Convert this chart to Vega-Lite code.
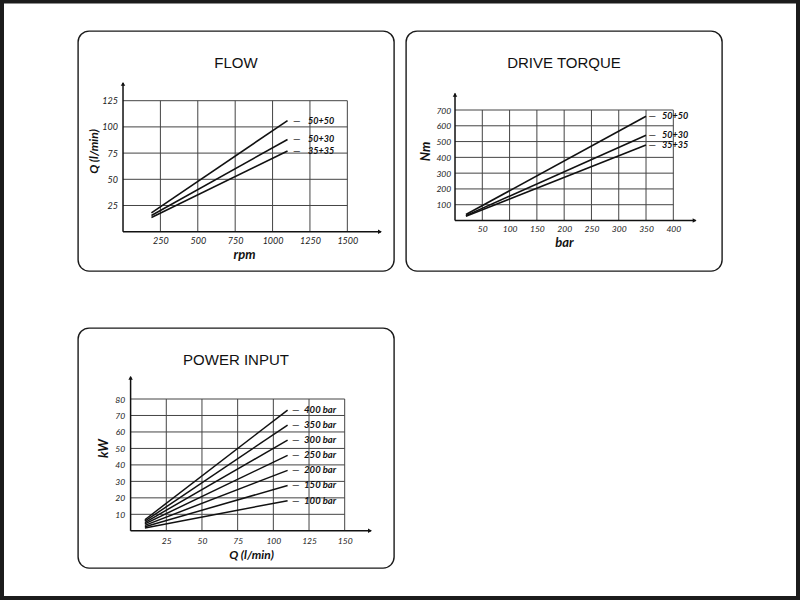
{
  "$schema": "https://vega.github.io/schema/vega-lite/v6.json",
  "padding": 0,
  "background": "white",
  "columns": 2,
  "spacing": {"row": 57, "column": 12},
  "bounds": "flush",
  "datasets": {
    "flow": [
      {"rpm": 190, "q": 18, "series": "50+50"}, {"rpm": 1100, "q": 106, "series": "50+50"},
      {"rpm": 190, "q": 15.5, "series": "50+30"}, {"rpm": 1100, "q": 88, "series": "50+30"},
      {"rpm": 190, "q": 13.5, "series": "35+35"}, {"rpm": 1100, "q": 77, "series": "35+35"}
    ],
    "flowGridX": [{"rpm": 250}, {"rpm": 500}, {"rpm": 750}, {"rpm": 1000}, {"rpm": 1250}, {"rpm": 1500}],
    "flowGridY": [{"q": 25}, {"q": 50}, {"q": 75}, {"q": 100}, {"q": 125}],
    "torque": [
      {"bar": 20, "nm": 38, "series": "50+50"}, {"bar": 350, "nm": 660, "series": "50+50"},
      {"bar": 20, "nm": 31, "series": "50+30"}, {"bar": 350, "nm": 540, "series": "50+30"},
      {"bar": 20, "nm": 27, "series": "35+35"}, {"bar": 350, "nm": 478, "series": "35+35"}
    ],
    "torqueGridX": [{"bar": 50}, {"bar": 100}, {"bar": 150}, {"bar": 200}, {"bar": 250}, {"bar": 300}, {"bar": 350}, {"bar": 400}],
    "torqueGridY": [{"nm": 100}, {"nm": 200}, {"nm": 300}, {"nm": 400}, {"nm": 500}, {"nm": 600}, {"nm": 700}],
    "power": [
      {"q": 10, "kw": 6.7, "series": "400 bar"}, {"q": 110, "kw": 73.3, "series": "400 bar"},
      {"q": 10, "kw": 5.8, "series": "350 bar"}, {"q": 110, "kw": 64.2, "series": "350 bar"},
      {"q": 10, "kw": 5.0, "series": "300 bar"}, {"q": 110, "kw": 55.0, "series": "300 bar"},
      {"q": 10, "kw": 4.2, "series": "250 bar"}, {"q": 110, "kw": 45.8, "series": "250 bar"},
      {"q": 10, "kw": 3.3, "series": "200 bar"}, {"q": 110, "kw": 36.7, "series": "200 bar"},
      {"q": 10, "kw": 2.5, "series": "150 bar"}, {"q": 110, "kw": 27.5, "series": "150 bar"},
      {"q": 10, "kw": 1.7, "series": "100 bar"}, {"q": 110, "kw": 18.3, "series": "100 bar"}
    ],
    "powerGridX": [{"q": 25}, {"q": 50}, {"q": 75}, {"q": 100}, {"q": 125}, {"q": 150}],
    "powerGridY": [{"kw": 10}, {"kw": 20}, {"kw": 30}, {"kw": 40}, {"kw": 50}, {"kw": 60}, {"kw": 70}, {"kw": 80}]
  },
  "concat": [
    {
      "width": 316,
      "height": 240,
      "title": {"text": "FLOW"},
      "layer": [
        {"data": {"name": "flowGridX"}, "mark": {"type": "rule", "color": "#444", "strokeWidth": 1},
         "encoding": {
           "x": {"field": "rpm", "type": "quantitative", "scale": {"domain": [-301, 1812], "nice": false, "zero": false},
                 "axis": {"values": [250, 500, 750, 1000, 1250, 1500], "tickCount": 30, "format": "d", "title": "rpm", "titleX": 166, "offset": -39.3, "labelPadding": 4.5, "labelFontSize": 9, "titleFontSize": 13, "titlePadding": 3}},
           "y": {"datum": 0, "type": "quantitative", "scale": {"domain": [-37.5, 191.5], "nice": false, "zero": false}},
           "y2": {"datum": 125}}},
        {"data": {"name": "flowGridY"}, "mark": {"type": "rule", "color": "#444", "strokeWidth": 1},
         "encoding": {
           "y": {"field": "q", "type": "quantitative",
                 "axis": {"values": [25, 50, 75, 100, 125], "tickCount": 30, "format": "d", "title": "Q (l/min)", "offset": -45, "labelPadding": 5.5, "labelFontSize": 9, "titleFontSize": 12, "titlePadding": 1}},
           "x": {"datum": 0, "type": "quantitative"}, "x2": {"datum": 1500}}},
        {"data": {"values": [{}]}, "mark": {"type": "rule", "color": "#111", "strokeWidth": 1.5},
         "encoding": {"x": {"datum": 0, "type": "quantitative"}, "x2": {"datum": 1725}, "y": {"datum": 0, "type": "quantitative"}}},
        {"data": {"values": [{}]}, "mark": {"type": "rule", "color": "#111", "strokeWidth": 1.5},
         "encoding": {"x": {"datum": 0, "type": "quantitative"}, "y": {"datum": 0, "type": "quantitative"}, "y2": {"datum": 142}}},
        {"data": {"values": [{}]}, "mark": {"type": "point", "shape": "triangle-right", "filled": true, "size": 20, "color": "#111", "opacity": 1},
         "encoding": {"x": {"datum": 1718, "type": "quantitative"}, "y": {"datum": 0, "type": "quantitative"}}},
        {"data": {"values": [{}]}, "mark": {"type": "point", "shape": "triangle-up", "filled": true, "size": 20, "color": "#111", "opacity": 1},
         "encoding": {"x": {"datum": 0, "type": "quantitative"}, "y": {"datum": 141, "type": "quantitative"}}},
        {"data": {"name": "flow"}, "mark": {"type": "line", "color": "#111", "strokeWidth": 1.6},
         "encoding": {"x": {"field": "rpm", "type": "quantitative"}, "y": {"field": "q", "type": "quantitative"}, "detail": {"field": "series"}}},
        {"data": {"name": "flow"}, "transform": [{"filter": "datum.rpm == 1100"}],
         "mark": {"type": "text", "text": "—", "align": "left", "baseline": "middle", "dx": 5.5, "fontSize": 9.5, "color": "#111"},
         "encoding": {"x": {"field": "rpm", "type": "quantitative"}, "y": {"field": "q", "type": "quantitative"}}},
        {"data": {"name": "flow"}, "transform": [{"filter": "datum.rpm == 1100"}],
         "mark": {"type": "text", "align": "left", "baseline": "middle", "dx": 20.5, "fontSize": 9, "fontWeight": "bold", "fontStyle": "italic", "color": "#111"},
         "encoding": {"x": {"field": "rpm", "type": "quantitative"}, "y": {"field": "q", "type": "quantitative"}, "text": {"field": "series"}}}
      ]
    },
    {
      "width": 316,
      "height": 240,
      "title": {"text": "DRIVE TORQUE"},
      "layer": [
        {"data": {"name": "torqueGridX"}, "mark": {"type": "rule", "color": "#444", "strokeWidth": 1},
         "encoding": {
           "x": {"field": "bar", "type": "quantitative", "scale": {"domain": [-89.8, 489.2], "nice": false, "zero": false},
                 "axis": {"values": [50, 100, 150, 200, 250, 300, 350, 400], "tickCount": 30, "format": "d", "title": "bar", "offset": -50.5, "labelPadding": 4, "labelFontSize": 8.5, "titleFontSize": 13, "titlePadding": 3}},
           "y": {"datum": 0, "type": "quantitative", "scale": {"domain": [-319.9, 1200.5], "nice": false, "zero": false}},
           "y2": {"datum": 700}}},
        {"data": {"name": "torqueGridY"}, "mark": {"type": "rule", "color": "#444", "strokeWidth": 1},
         "encoding": {
           "y": {"field": "nm", "type": "quantitative",
                 "axis": {"values": [100, 200, 300, 400, 500, 600, 700], "tickCount": 30, "format": "d", "title": "Nm", "offset": -49, "labelPadding": 4.3, "labelFontSize": 8.5, "titleFontSize": 13, "titlePadding": 3}},
           "x": {"datum": 0, "type": "quantitative"}, "x2": {"datum": 400}}},
        {"data": {"values": [{}]}, "mark": {"type": "rule", "color": "#111", "strokeWidth": 1.5},
         "encoding": {"x": {"datum": 0, "type": "quantitative"}, "x2": {"datum": 441}, "y": {"datum": 0, "type": "quantitative"}}},
        {"data": {"values": [{}]}, "mark": {"type": "rule", "color": "#111", "strokeWidth": 1.5},
         "encoding": {"x": {"datum": 0, "type": "quantitative"}, "y": {"datum": 0, "type": "quantitative"}, "y2": {"datum": 805}}},
        {"data": {"values": [{}]}, "mark": {"type": "point", "shape": "triangle-right", "filled": true, "size": 20, "color": "#111", "opacity": 1},
         "encoding": {"x": {"datum": 439, "type": "quantitative"}, "y": {"datum": 0, "type": "quantitative"}}},
        {"data": {"values": [{}]}, "mark": {"type": "point", "shape": "triangle-up", "filled": true, "size": 20, "color": "#111", "opacity": 1},
         "encoding": {"x": {"datum": 0, "type": "quantitative"}, "y": {"datum": 797, "type": "quantitative"}}},
        {"data": {"name": "torque"}, "mark": {"type": "line", "color": "#111", "strokeWidth": 1.6},
         "encoding": {"x": {"field": "bar", "type": "quantitative"}, "y": {"field": "nm", "type": "quantitative"}, "detail": {"field": "series"}}},
        {"data": {"name": "torque"}, "transform": [{"filter": "datum.bar == 350"}],
         "mark": {"type": "text", "text": "—", "align": "left", "baseline": "middle", "dx": 2.5, "fontSize": 9.5, "color": "#111"},
         "encoding": {"x": {"field": "bar", "type": "quantitative"}, "y": {"field": "nm", "type": "quantitative"}}},
        {"data": {"name": "torque"}, "transform": [{"filter": "datum.bar == 350"}],
         "mark": {"type": "text", "align": "left", "baseline": "middle", "dx": 16, "fontSize": 9, "fontWeight": "bold", "fontStyle": "italic", "color": "#111"},
         "encoding": {"x": {"field": "bar", "type": "quantitative"}, "y": {"field": "nm", "type": "quantitative"}, "text": {"field": "series"}}}
      ]
    },
    {
      "width": 316,
      "height": 240,
      "title": {"text": "POWER INPUT"},
      "layer": [
        {"data": {"name": "powerGridX"}, "mark": {"type": "rule", "color": "#444", "strokeWidth": 1},
         "encoding": {
           "x": {"field": "q", "type": "quantitative", "scale": {"domain": [-36.85, 184.54], "nice": false, "zero": false},
                 "axis": {"values": [25, 50, 75, 100, 125, 150], "tickCount": 30, "format": "d", "title": "Q (l/min)", "titleX": 173, "offset": -37.2, "labelPadding": 6, "labelFontSize": 8.5, "titleFontSize": 12, "titlePadding": 4}},
           "y": {"datum": 0, "type": "quantitative", "scale": {"domain": [-22.58, 123.1], "nice": false, "zero": false}},
           "y2": {"datum": 80}}},
        {"data": {"name": "powerGridY"}, "mark": {"type": "rule", "color": "#444", "strokeWidth": 1},
         "encoding": {
           "y": {"field": "kw", "type": "quantitative",
                 "axis": {"values": [10, 20, 30, 40, 50, 60, 70, 80], "tickCount": 30, "format": "d", "title": "kW", "offset": -52.6, "labelPadding": 6, "labelFontSize": 8.5, "titleFontSize": 13, "titlePadding": 4}},
           "x": {"datum": 0, "type": "quantitative"}, "x2": {"datum": 150}}},
        {"data": {"values": [{}]}, "mark": {"type": "rule", "color": "#111", "strokeWidth": 1.5},
         "encoding": {"x": {"datum": 0, "type": "quantitative"}, "x2": {"datum": 168.5}, "y": {"datum": 0, "type": "quantitative"}}},
        {"data": {"values": [{}]}, "mark": {"type": "rule", "color": "#111", "strokeWidth": 1.5},
         "encoding": {"x": {"datum": 0, "type": "quantitative"}, "y": {"datum": 0, "type": "quantitative"}, "y2": {"datum": 93.5}}},
        {"data": {"values": [{}]}, "mark": {"type": "point", "shape": "triangle-right", "filled": true, "size": 20, "color": "#111", "opacity": 1},
         "encoding": {"x": {"datum": 167.7, "type": "quantitative"}, "y": {"datum": 0, "type": "quantitative"}}},
        {"data": {"values": [{}]}, "mark": {"type": "point", "shape": "triangle-up", "filled": true, "size": 20, "color": "#111", "opacity": 1},
         "encoding": {"x": {"datum": 0, "type": "quantitative"}, "y": {"datum": 92.8, "type": "quantitative"}}},
        {"data": {"name": "power"}, "mark": {"type": "line", "color": "#111", "strokeWidth": 1.5},
         "encoding": {"x": {"field": "q", "type": "quantitative"}, "y": {"field": "kw", "type": "quantitative"}, "detail": {"field": "series"}}},
        {"data": {"name": "power"}, "transform": [{"filter": "datum.q == 110"}],
         "mark": {"type": "text", "text": "—", "align": "left", "baseline": "middle", "dx": 4.5, "fontSize": 9.5, "color": "#111"},
         "encoding": {"x": {"field": "q", "type": "quantitative"}, "y": {"field": "kw", "type": "quantitative"}}},
        {"data": {"name": "power"}, "transform": [{"filter": "datum.q == 110"}],
         "mark": {"type": "text", "align": "left", "baseline": "middle", "dx": 16.5, "fontSize": 9.5, "fontWeight": "bold", "fontStyle": "italic", "color": "#111"},
         "encoding": {"x": {"field": "q", "type": "quantitative"}, "y": {"field": "kw", "type": "quantitative"}, "text": {"field": "series"}}}
      ]
    },
    {
      "width": 316,
      "height": 240,
      "view": {"stroke": null, "fill": null},
      "data": {"values": [{}]},
      "layer": [
        {"mark": {"type": "rect", "color": "#1c1c1c"},
         "encoding": {"x": {"datum": 0, "type": "quantitative", "scale": {"domain": [406, 722], "nice": false, "zero": false}, "axis": null}, "x2": {"datum": 4},
                      "y": {"datum": 0, "type": "quantitative", "scale": {"domain": [32, 272], "nice": false, "zero": false}, "axis": null}, "y2": {"datum": 600}}},
        {"mark": {"type": "rect", "color": "#1c1c1c"},
         "encoding": {"x": {"datum": 796, "type": "quantitative", "axis": null}, "x2": {"datum": 800}, "y": {"datum": 0, "type": "quantitative", "axis": null}, "y2": {"datum": 600}}},
        {"mark": {"type": "rect", "color": "#1c1c1c"},
         "encoding": {"x": {"datum": 0, "type": "quantitative", "axis": null}, "x2": {"datum": 800}, "y": {"datum": 596.5, "type": "quantitative", "axis": null}, "y2": {"datum": 600}}},
        {"mark": {"type": "rect", "color": "#1c1c1c"},
         "encoding": {"x": {"datum": 0, "type": "quantitative", "axis": null}, "x2": {"datum": 800}, "y": {"datum": 0, "type": "quantitative", "axis": null}, "y2": {"datum": 4}}}
      ]
    }
  ],
  "config": {
    "view": {"stroke": "#1a1a1a", "strokeWidth": 1.4, "cornerRadius": 11, "fill": "white"},
    "axis": {"domain": false, "ticks": false, "grid": false, "labelFont": "Lato", "labelFontStyle": "italic", "labelColor": "#222", "labelFlush": false, "labelOverlap": false, "labelBound": false, "titleFont": "Lato", "titleFontStyle": "italic", "titleFontWeight": "bold", "titleColor": "#111"},
    "title": {"font": "Liberation Sans", "fontSize": 15, "fontWeight": "normal", "color": "#111", "anchor": "middle", "frame": "group", "offset": -40},
    "text": {"font": "Lato"}
  }
}
